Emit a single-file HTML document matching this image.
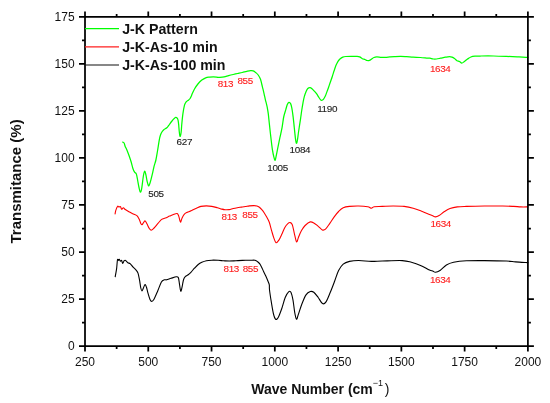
<!DOCTYPE html>
<html><head><meta charset="utf-8"><title>FTIR</title>
<style>
html,body{margin:0;padding:0;background:#fff;width:550px;height:403px;overflow:hidden}
svg{display:block}
text{font-family:"Liberation Sans",Arial,sans-serif}
.tl{font-size:12px;fill:#111}
.pk{font-size:9.9px}
.lg{font-size:14.2px;font-weight:bold;fill:#111}
.ax{font-size:14px;font-weight:bold;fill:#111}
</style></head><body>
<svg width="550" height="403" viewBox="0 0 550 403">
<rect width="550" height="403" fill="#fff"/>
<g fill="none" stroke-linejoin="round" stroke-linecap="round">
<path d="M115.20 276.80 C115.33 276.07 115.75 273.88 116.00 272.40 C116.25 270.92 116.45 270.02 116.70 267.90 C116.95 265.78 117.20 260.95 117.50 259.70 C117.80 258.45 118.22 260.48 118.50 260.40 C118.78 260.32 118.88 259.07 119.20 259.20 C119.52 259.33 120.00 261.00 120.40 261.20 C120.80 261.40 121.22 260.03 121.60 260.40 C121.98 260.77 122.27 263.35 122.70 263.40 C123.13 263.45 123.72 261.20 124.20 260.70 C124.68 260.20 124.98 260.07 125.60 260.40 C126.22 260.73 127.15 262.15 127.90 262.70 C128.65 263.25 129.23 262.97 130.10 263.70 C130.97 264.43 132.10 266.03 133.10 267.10 C134.10 268.17 135.28 269.10 136.10 270.10 C136.92 271.10 137.43 271.48 138.00 273.10 C138.57 274.72 139.03 277.32 139.50 279.80 C139.97 282.28 140.38 286.13 140.80 288.00 C141.22 289.87 141.62 290.88 142.00 291.00 C142.38 291.12 142.60 289.77 143.10 288.70 C143.60 287.63 144.43 284.83 145.00 284.60 C145.57 284.37 146.00 285.87 146.50 287.30 C147.00 288.73 147.43 291.22 148.00 293.20 C148.57 295.18 149.28 297.83 149.90 299.20 C150.52 300.57 151.02 301.40 151.70 301.40 C152.38 301.40 153.00 300.93 154.00 299.20 C155.00 297.47 156.47 293.87 157.70 291.00 C158.93 288.13 160.28 283.87 161.40 282.00 C162.52 280.13 163.53 280.17 164.40 279.80 C165.27 279.43 165.48 280.05 166.60 279.80 C167.72 279.55 169.48 278.80 171.10 278.30 C172.72 277.80 175.10 276.92 176.30 276.80 C177.50 276.68 177.80 276.60 178.30 277.60 C178.80 278.60 178.97 280.82 179.30 282.80 C179.63 284.78 180.00 288.13 180.30 289.50 C180.60 290.87 180.77 291.62 181.10 291.00 C181.43 290.38 181.88 287.72 182.30 285.80 C182.72 283.88 183.07 281.07 183.60 279.50 C184.13 277.93 184.73 277.20 185.50 276.40 C186.27 275.60 187.30 275.38 188.20 274.70 C189.10 274.02 189.85 273.38 190.90 272.30 C191.95 271.22 193.28 269.50 194.50 268.20 C195.72 266.90 196.98 265.48 198.20 264.50 C199.42 263.52 200.43 262.93 201.80 262.30 C203.17 261.67 204.73 261.05 206.40 260.70 C208.07 260.35 209.83 260.27 211.80 260.20 C213.77 260.13 216.38 260.22 218.20 260.30 C220.02 260.38 221.57 260.60 222.70 260.70 C223.83 260.80 223.90 260.85 225.00 260.90 C226.10 260.95 227.85 261.00 229.30 261.00 C230.75 261.00 232.25 260.97 233.70 260.90 C235.15 260.83 236.55 260.68 238.00 260.60 C239.45 260.52 240.95 260.45 242.40 260.40 C243.85 260.35 245.25 260.33 246.70 260.30 C248.15 260.27 249.72 260.20 251.10 260.20 C252.48 260.20 253.92 260.05 255.00 260.30 C256.08 260.55 256.80 261.10 257.60 261.70 C258.40 262.30 259.15 263.03 259.80 263.90 C260.45 264.77 260.85 265.60 261.50 266.90 C262.15 268.20 262.98 270.17 263.70 271.70 C264.42 273.23 265.08 274.50 265.80 276.10 C266.52 277.70 267.42 279.85 268.00 281.30 C268.58 282.75 269.05 283.40 269.30 284.80 C269.55 286.20 269.17 286.85 269.50 289.70 C269.83 292.55 270.63 297.85 271.30 301.90 C271.97 305.95 272.78 311.12 273.50 314.00 C274.22 316.88 274.82 318.62 275.60 319.20 C276.38 319.78 277.18 319.23 278.20 317.50 C279.22 315.77 280.53 312.13 281.70 308.80 C282.87 305.47 284.05 300.33 285.20 297.50 C286.35 294.67 287.65 292.67 288.60 291.80 C289.55 290.93 290.17 290.92 290.90 292.30 C291.63 293.68 292.37 296.77 293.00 300.10 C293.63 303.43 294.12 309.12 294.70 312.30 C295.28 315.48 295.92 318.77 296.50 319.20 C297.08 319.63 297.33 317.35 298.20 314.90 C299.07 312.45 300.40 307.83 301.70 304.50 C303.00 301.17 304.57 297.07 306.00 294.90 C307.43 292.73 309.00 291.93 310.30 291.50 C311.60 291.07 312.48 291.30 313.80 292.30 C315.12 293.30 316.75 295.62 318.20 297.50 C319.65 299.38 321.20 302.87 322.50 303.60 C323.80 304.33 324.70 303.78 326.00 301.90 C327.30 300.02 328.85 295.78 330.30 292.30 C331.75 288.82 333.32 284.63 334.70 281.00 C336.08 277.37 337.18 273.32 338.60 270.50 C340.02 267.68 341.38 265.62 343.20 264.10 C345.02 262.58 346.93 262.00 349.50 261.40 C352.07 260.80 354.95 260.50 358.60 260.50 C362.25 260.50 367.45 261.32 371.40 261.40 C375.35 261.48 377.15 261.13 382.30 261.00 C387.45 260.87 397.45 260.38 402.30 260.60 C407.15 260.82 408.37 261.50 411.40 262.30 C414.43 263.10 417.48 264.10 420.50 265.40 C423.52 266.70 427.47 269.17 429.50 270.10 C431.53 271.03 431.70 270.63 432.70 271.00 C433.70 271.37 434.28 272.38 435.50 272.30 C436.72 272.22 438.18 271.72 440.00 270.50 C441.82 269.28 444.13 266.37 446.40 265.00 C448.67 263.63 450.27 263.00 453.60 262.30 C456.93 261.60 461.25 261.08 466.40 260.80 C471.55 260.52 477.83 260.57 484.50 260.60 C491.17 260.63 501.23 260.78 506.40 261.00 C511.57 261.22 511.92 261.63 515.50 261.90 C519.08 262.17 525.83 262.48 527.90 262.60" stroke="#000" stroke-width="1.1"/>
<path d="M115.10 213.90 C115.22 213.30 115.38 211.57 115.80 210.30 C116.22 209.03 117.07 206.87 117.60 206.30 C118.13 205.73 118.52 206.85 119.00 206.90 C119.48 206.95 120.07 206.20 120.50 206.60 C120.93 207.00 121.12 209.10 121.60 209.30 C122.08 209.50 122.78 207.77 123.40 207.80 C124.02 207.83 124.38 208.85 125.30 209.50 C126.22 210.15 127.57 210.97 128.90 211.70 C130.23 212.43 131.97 213.23 133.30 213.90 C134.63 214.57 135.93 214.85 136.90 215.70 C137.87 216.55 138.45 217.72 139.10 219.00 C139.75 220.28 140.32 222.43 140.80 223.40 C141.28 224.37 141.55 224.93 142.00 224.80 C142.45 224.67 142.97 223.25 143.50 222.60 C144.03 221.95 144.60 220.65 145.20 220.90 C145.80 221.15 146.42 222.83 147.10 224.10 C147.78 225.37 148.62 227.48 149.30 228.50 C149.98 229.52 150.48 230.20 151.20 230.20 C151.92 230.20 152.47 229.63 153.60 228.50 C154.73 227.37 156.67 224.92 158.00 223.40 C159.33 221.88 160.38 220.30 161.60 219.40 C162.82 218.50 163.97 218.55 165.30 218.00 C166.63 217.45 168.15 216.73 169.60 216.10 C171.05 215.47 172.73 214.63 174.00 214.20 C175.27 213.77 176.42 213.18 177.20 213.50 C177.98 213.82 178.22 214.82 178.70 216.10 C179.18 217.38 179.75 220.23 180.10 221.20 C180.45 222.17 180.48 222.38 180.80 221.90 C181.12 221.42 181.43 219.57 182.00 218.30 C182.57 217.03 183.32 215.30 184.20 214.30 C185.08 213.30 186.42 212.78 187.30 212.30 C188.18 211.82 188.75 211.70 189.50 211.40 C190.25 211.10 190.65 211.03 191.80 210.50 C192.95 209.97 194.88 208.88 196.40 208.20 C197.92 207.52 199.23 206.78 200.90 206.40 C202.57 206.02 204.58 205.90 206.40 205.90 C208.22 205.90 209.98 206.10 211.80 206.40 C213.62 206.70 215.63 207.25 217.30 207.70 C218.97 208.15 220.52 208.77 221.80 209.10 C223.08 209.43 223.78 209.62 225.00 209.70 C226.22 209.78 227.73 209.80 229.10 209.60 C230.47 209.40 231.83 208.82 233.20 208.50 C234.57 208.18 235.93 207.93 237.30 207.70 C238.67 207.47 240.03 207.30 241.40 207.10 C242.77 206.90 244.15 206.70 245.50 206.50 C246.85 206.30 248.15 206.05 249.50 205.90 C250.85 205.75 252.37 205.58 253.60 205.60 C254.83 205.62 255.93 205.72 256.90 206.00 C257.87 206.28 258.58 206.68 259.40 207.30 C260.22 207.92 260.98 208.75 261.80 209.70 C262.62 210.65 263.48 211.77 264.30 213.00 C265.12 214.23 265.88 215.60 266.70 217.10 C267.52 218.60 268.38 219.75 269.20 222.00 C270.02 224.25 270.83 227.95 271.60 230.60 C272.37 233.25 273.07 235.88 273.80 237.90 C274.53 239.92 275.15 242.33 276.00 242.70 C276.85 243.07 277.93 241.50 278.90 240.10 C279.87 238.70 280.83 236.37 281.80 234.30 C282.77 232.23 283.73 229.45 284.70 227.70 C285.67 225.95 286.67 224.65 287.60 223.80 C288.53 222.95 289.52 222.43 290.30 222.60 C291.08 222.77 291.65 223.10 292.30 224.80 C292.95 226.50 293.57 230.13 294.20 232.80 C294.83 235.47 295.62 239.35 296.10 240.80 C296.58 242.25 296.70 242.10 297.10 241.50 C297.50 240.90 297.77 239.02 298.50 237.20 C299.23 235.38 300.40 232.55 301.50 230.60 C302.60 228.65 303.65 226.95 305.10 225.50 C306.55 224.05 308.63 222.25 310.20 221.90 C311.77 221.55 313.17 222.67 314.50 223.40 C315.83 224.13 316.90 225.22 318.20 226.30 C319.50 227.38 321.08 229.42 322.30 229.90 C323.52 230.38 324.25 230.28 325.50 229.20 C326.75 228.12 328.35 225.47 329.80 223.40 C331.25 221.33 332.73 218.78 334.20 216.80 C335.67 214.82 337.10 213.00 338.60 211.50 C340.10 210.00 341.38 208.65 343.20 207.80 C345.02 206.95 346.93 206.70 349.50 206.40 C352.07 206.10 355.57 205.95 358.60 206.00 C361.63 206.05 365.57 206.33 367.70 206.70 C369.83 207.07 370.33 208.20 371.40 208.20 C372.47 208.20 372.28 207.00 374.10 206.70 C375.92 206.40 379.12 206.52 382.30 206.40 C385.48 206.28 389.57 206.00 393.20 206.00 C396.83 206.00 400.77 206.03 404.10 206.40 C407.43 206.77 410.17 207.35 413.20 208.20 C416.23 209.05 419.58 210.45 422.30 211.50 C425.02 212.55 427.77 213.78 429.50 214.50 C431.23 215.22 431.70 215.40 432.70 215.80 C433.70 216.20 434.43 216.95 435.50 216.90 C436.57 216.85 437.60 216.40 439.10 215.50 C440.60 214.60 442.68 212.67 444.50 211.50 C446.32 210.33 447.87 209.27 450.00 208.50 C452.13 207.73 454.57 207.25 457.30 206.90 C460.03 206.55 461.87 206.55 466.40 206.40 C470.93 206.25 478.45 206.07 484.50 206.00 C490.55 205.93 497.85 205.93 502.70 206.00 C507.55 206.07 510.57 206.25 513.60 206.40 C516.63 206.55 518.52 206.82 520.90 206.90 C523.28 206.98 526.73 206.90 527.90 206.90" stroke="#ff0000" stroke-width="1.1"/>
<path d="M122.70 142.10 C122.95 142.28 123.80 142.52 124.20 143.20 C124.60 143.88 124.65 145.08 125.10 146.20 C125.55 147.32 126.23 148.30 126.90 149.90 C127.57 151.50 128.40 153.82 129.10 155.80 C129.80 157.78 130.47 159.68 131.10 161.80 C131.73 163.92 132.32 166.77 132.90 168.50 C133.48 170.23 134.03 171.30 134.60 172.20 C135.17 173.10 135.80 172.60 136.30 173.90 C136.80 175.20 137.17 177.82 137.60 180.00 C138.03 182.18 138.43 184.97 138.90 187.00 C139.37 189.03 139.92 192.07 140.40 192.20 C140.88 192.33 141.32 190.42 141.80 187.80 C142.28 185.18 142.83 179.25 143.30 176.50 C143.77 173.75 144.17 171.58 144.60 171.30 C145.03 171.02 145.47 173.07 145.90 174.80 C146.33 176.53 146.77 179.88 147.20 181.70 C147.63 183.52 148.10 185.27 148.50 185.70 C148.90 186.13 149.17 185.40 149.60 184.30 C150.03 183.20 150.57 181.12 151.10 179.10 C151.63 177.08 152.30 174.37 152.80 172.20 C153.30 170.03 153.58 168.13 154.10 166.10 C154.62 164.07 155.33 162.52 155.90 160.00 C156.47 157.48 156.93 154.37 157.50 151.00 C158.07 147.63 158.82 142.42 159.30 139.80 C159.78 137.18 159.97 136.60 160.40 135.30 C160.83 134.00 161.33 132.93 161.90 132.00 C162.47 131.07 163.18 130.27 163.80 129.70 C164.42 129.13 164.98 129.03 165.60 128.60 C166.22 128.17 166.87 127.78 167.50 127.10 C168.13 126.42 168.72 125.43 169.40 124.50 C170.08 123.57 170.87 122.43 171.60 121.50 C172.33 120.57 173.12 119.58 173.80 118.90 C174.48 118.22 175.13 117.52 175.70 117.40 C176.27 117.28 176.80 117.70 177.20 118.20 C177.60 118.70 177.85 119.28 178.10 120.40 C178.35 121.52 178.52 123.13 178.70 124.90 C178.88 126.67 179.02 129.23 179.20 131.00 C179.38 132.77 179.60 134.65 179.80 135.50 C180.00 136.35 180.17 136.72 180.40 136.10 C180.63 135.48 180.97 133.82 181.20 131.80 C181.43 129.78 181.52 126.98 181.80 124.00 C182.08 121.02 182.45 117.03 182.90 113.90 C183.35 110.77 183.97 107.20 184.50 105.20 C185.03 103.20 185.45 102.73 186.10 101.90 C186.75 101.07 187.73 100.77 188.40 100.20 C189.07 99.63 189.63 99.15 190.10 98.50 C190.57 97.85 190.83 97.13 191.20 96.30 C191.57 95.47 191.75 94.72 192.30 93.50 C192.85 92.28 193.57 90.58 194.50 89.00 C195.43 87.42 196.68 85.48 197.90 84.00 C199.12 82.52 200.50 81.13 201.80 80.10 C203.10 79.07 204.40 78.30 205.70 77.80 C207.00 77.30 208.30 77.27 209.60 77.10 C210.90 76.93 212.10 76.77 213.50 76.80 C214.90 76.83 217.00 77.22 218.00 77.30 C219.00 77.38 218.48 77.38 219.50 77.30 C220.52 77.22 222.58 77.08 224.10 76.80 C225.62 76.52 227.08 75.98 228.60 75.60 C230.12 75.22 231.68 74.85 233.20 74.50 C234.72 74.15 236.18 73.83 237.70 73.50 C239.22 73.17 240.78 72.85 242.30 72.50 C243.82 72.15 245.43 71.70 246.80 71.40 C248.17 71.10 249.43 70.78 250.50 70.70 C251.57 70.62 252.30 70.57 253.20 70.90 C254.10 71.23 255.07 72.02 255.90 72.70 C256.73 73.38 257.43 73.90 258.20 75.00 C258.97 76.10 259.80 77.32 260.50 79.30 C261.20 81.28 261.92 84.98 262.40 86.90 C262.88 88.82 263.07 89.40 263.40 90.80 C263.73 92.20 264.07 93.80 264.40 95.30 C264.73 96.80 265.07 98.40 265.40 99.80 C265.73 101.20 266.08 102.38 266.40 103.70 C266.72 105.02 266.98 106.00 267.30 107.70 C267.62 109.40 267.95 111.13 268.30 113.90 C268.65 116.67 268.97 120.33 269.40 124.30 C269.83 128.27 270.40 133.48 270.90 137.70 C271.40 141.92 271.90 146.37 272.40 149.60 C272.90 152.83 273.45 155.30 273.90 157.10 C274.35 158.90 274.73 160.53 275.10 160.40 C275.47 160.27 275.68 158.22 276.10 156.30 C276.52 154.38 276.97 152.00 277.60 148.90 C278.23 145.80 279.15 141.30 279.90 137.70 C280.65 134.10 281.47 130.75 282.10 127.30 C282.73 123.85 283.08 119.95 283.70 117.00 C284.32 114.05 285.20 111.67 285.80 109.60 C286.40 107.53 286.78 105.82 287.30 104.60 C287.82 103.38 288.35 102.47 288.90 102.30 C289.45 102.13 290.12 102.67 290.60 103.60 C291.08 104.53 291.38 105.73 291.80 107.90 C292.22 110.07 292.68 113.28 293.10 116.60 C293.52 119.92 293.90 124.08 294.30 127.80 C294.70 131.52 295.15 136.32 295.50 138.90 C295.85 141.48 296.08 143.08 296.40 143.30 C296.72 143.52 297.03 142.17 297.40 140.20 C297.77 138.23 298.08 135.02 298.60 131.50 C299.12 127.98 299.97 122.68 300.50 119.10 C301.03 115.52 301.38 112.72 301.80 110.00 C302.22 107.28 302.58 105.02 303.00 102.80 C303.42 100.58 303.78 98.58 304.30 96.70 C304.82 94.82 305.52 92.87 306.10 91.50 C306.68 90.13 307.15 89.15 307.80 88.50 C308.45 87.85 309.27 87.53 310.00 87.60 C310.73 87.67 311.48 88.32 312.20 88.90 C312.92 89.48 313.58 90.30 314.30 91.10 C315.02 91.90 315.77 92.70 316.50 93.70 C317.23 94.70 318.05 96.12 318.70 97.10 C319.35 98.08 319.90 99.07 320.40 99.60 C320.90 100.13 321.20 100.35 321.70 100.30 C322.20 100.25 322.82 99.97 323.40 99.30 C323.98 98.63 324.62 97.53 325.20 96.30 C325.78 95.07 326.33 93.42 326.90 91.90 C327.47 90.38 328.05 88.77 328.60 87.20 C329.15 85.63 329.58 84.28 330.20 82.50 C330.82 80.72 331.65 78.45 332.30 76.50 C332.95 74.55 333.50 72.62 334.10 70.80 C334.70 68.98 335.25 67.18 335.90 65.60 C336.55 64.02 337.28 62.45 338.00 61.30 C338.72 60.15 339.40 59.40 340.20 58.70 C341.00 58.00 341.87 57.47 342.80 57.10 C343.73 56.73 344.43 56.63 345.80 56.50 C347.17 56.37 349.12 56.33 351.00 56.30 C352.88 56.27 355.65 56.20 357.10 56.30 C358.55 56.40 358.83 56.50 359.70 56.90 C360.57 57.30 361.42 58.27 362.30 58.70 C363.18 59.13 364.22 59.20 365.00 59.50 C365.78 59.80 366.25 60.35 367.00 60.50 C367.75 60.65 368.72 60.67 369.50 60.40 C370.28 60.13 370.97 59.38 371.70 58.90 C372.43 58.42 373.05 57.83 373.90 57.50 C374.75 57.17 375.58 56.93 376.80 56.90 C378.02 56.87 379.75 57.23 381.20 57.30 C382.65 57.37 384.05 57.37 385.50 57.30 C386.95 57.23 388.43 57.02 389.90 56.90 C391.37 56.78 392.48 56.68 394.30 56.60 C396.12 56.52 398.75 56.38 400.80 56.40 C402.85 56.42 404.53 56.57 406.60 56.70 C408.67 56.83 410.88 57.07 413.20 57.20 C415.52 57.33 418.08 57.33 420.50 57.50 C422.92 57.67 426.12 58.08 427.70 58.20 C429.28 58.32 429.07 58.07 430.00 58.20 C430.93 58.33 432.22 58.87 433.30 59.00 C434.38 59.13 435.28 59.13 436.50 59.00 C437.72 58.87 439.10 58.50 440.60 58.20 C442.10 57.90 444.00 57.47 445.50 57.20 C447.00 56.93 448.50 56.60 449.60 56.60 C450.70 56.60 451.28 56.87 452.10 57.20 C452.92 57.53 453.68 58.02 454.50 58.60 C455.32 59.18 456.17 60.22 457.00 60.70 C457.83 61.18 458.70 61.10 459.50 61.50 C460.30 61.90 460.98 63.10 461.80 63.10 C462.62 63.10 463.43 62.18 464.40 61.50 C465.37 60.82 466.52 59.75 467.60 59.00 C468.68 58.25 469.67 57.47 470.90 57.00 C472.13 56.53 473.33 56.37 475.00 56.20 C476.67 56.03 477.80 56.03 480.90 56.00 C484.00 55.97 489.35 55.93 493.60 56.00 C497.85 56.07 502.45 56.25 506.40 56.40 C510.35 56.55 514.03 56.75 517.30 56.90 C520.57 57.05 524.23 57.23 526.00 57.30 C527.77 57.37 527.58 57.30 527.90 57.30" stroke="#00ff00" stroke-width="1.25"/>
</g>
<path d="M85.00 16.90 H527.90 V346.05 H85.00 Z" fill="none" stroke="#000" stroke-width="1.75" stroke-linejoin="miter"/>
<path d="M85.00 346.05 V351.55 M85.00 16.90 V11.40 M116.64 346.05 V349.05 M116.64 16.90 V13.90 M148.27 346.05 V351.55 M148.27 16.90 V11.40 M179.91 346.05 V349.05 M179.91 16.90 V13.90 M211.54 346.05 V351.55 M211.54 16.90 V11.40 M243.18 346.05 V349.05 M243.18 16.90 V13.90 M274.81 346.05 V351.55 M274.81 16.90 V11.40 M306.45 346.05 V349.05 M306.45 16.90 V13.90 M338.09 346.05 V351.55 M338.09 16.90 V11.40 M369.72 346.05 V349.05 M369.72 16.90 V13.90 M401.36 346.05 V351.55 M401.36 16.90 V11.40 M432.99 346.05 V349.05 M432.99 16.90 V13.90 M464.63 346.05 V351.55 M464.63 16.90 V11.40 M496.26 346.05 V349.05 M496.26 16.90 V13.90 M527.90 346.05 V351.55 M527.90 16.90 V11.40 M85.00 346.05 H79.00 M527.90 346.05 H533.90 M85.00 322.54 H82.00 M527.90 322.54 H530.90 M85.00 299.03 H79.00 M527.90 299.03 H533.90 M85.00 275.52 H82.00 M527.90 275.52 H530.90 M85.00 252.01 H79.00 M527.90 252.01 H533.90 M85.00 228.50 H82.00 M527.90 228.50 H530.90 M85.00 204.99 H79.00 M527.90 204.99 H533.90 M85.00 181.47 H82.00 M527.90 181.47 H530.90 M85.00 157.96 H79.00 M527.90 157.96 H533.90 M85.00 134.45 H82.00 M527.90 134.45 H530.90 M85.00 110.94 H79.00 M527.90 110.94 H533.90 M85.00 87.43 H82.00 M527.90 87.43 H530.90 M85.00 63.92 H79.00 M527.90 63.92 H533.90 M85.00 40.41 H82.00 M527.90 40.41 H530.90 M85.00 16.90 H79.00 M527.90 16.90 H533.90" stroke="#000" stroke-width="1.75" fill="none"/>
<text x="74.6" y="349.95" class="tl" text-anchor="end">0</text>
<text x="74.6" y="302.93" class="tl" text-anchor="end">25</text>
<text x="74.6" y="255.91" class="tl" text-anchor="end">50</text>
<text x="74.6" y="208.89" class="tl" text-anchor="end">75</text>
<text x="74.6" y="161.86" class="tl" text-anchor="end">100</text>
<text x="74.6" y="114.84" class="tl" text-anchor="end">125</text>
<text x="74.6" y="67.82" class="tl" text-anchor="end">150</text>
<text x="74.6" y="20.80" class="tl" text-anchor="end">175</text>
<text x="85.00" y="366.3" class="tl" text-anchor="middle">250</text>
<text x="148.27" y="366.3" class="tl" text-anchor="middle">500</text>
<text x="211.54" y="366.3" class="tl" text-anchor="middle">750</text>
<text x="274.81" y="366.3" class="tl" text-anchor="middle">1000</text>
<text x="338.09" y="366.3" class="tl" text-anchor="middle">1250</text>
<text x="401.36" y="366.3" class="tl" text-anchor="middle">1500</text>
<text x="464.63" y="366.3" class="tl" text-anchor="middle">1750</text>
<text x="527.90" y="366.3" class="tl" text-anchor="middle">2000</text>
<line x1="85" y1="28.7" x2="119" y2="28.7" stroke="#00ff00" stroke-width="1.30"/>
<text x="122.2" y="33.7" class="lg">J-K Pattern</text>
<line x1="85" y1="46.9" x2="119" y2="46.9" stroke="#ff2020" stroke-width="1.10"/>
<text x="122.2" y="51.9" class="lg">J-K-As-10 min</text>
<line x1="85" y1="65.0" x2="119" y2="65.0" stroke="#111" stroke-width="1.10"/>
<text x="122.2" y="70.0" class="lg">J-K-As-100 min</text>
<text transform="translate(148.30 196.60) scale(1.000 1)" class="pk" fill="#222" stroke="#222" stroke-width="0.12" letter-spacing="-0.35">505</text>
<text transform="translate(176.60 145.40) scale(1.000 1)" class="pk" fill="#222" stroke="#222" stroke-width="0.12" letter-spacing="-0.35">627</text>
<text transform="translate(267.30 170.70) scale(1.000 1)" class="pk" fill="#222" stroke="#222" stroke-width="0.12" letter-spacing="-0.35">1005</text>
<text transform="translate(289.60 153.00) scale(1.000 1)" class="pk" fill="#222" stroke="#222" stroke-width="0.12" letter-spacing="-0.35">1084</text>
<text transform="translate(317.20 111.70) scale(1.000 1)" class="pk" fill="#222" stroke="#222" stroke-width="0.12" letter-spacing="-0.35">1190</text>
<text transform="translate(217.70 87.30) scale(1.000 1)" class="pk" fill="#ff2020" stroke="#ff2020" stroke-width="0.12" letter-spacing="-0.35">813</text>
<text transform="translate(237.40 84.40) scale(1.000 1)" class="pk" fill="#ff2020" stroke="#ff2020" stroke-width="0.12" letter-spacing="-0.35">855</text>
<text transform="translate(429.90 71.80) scale(1.000 1)" class="pk" fill="#ff2020" stroke="#ff2020" stroke-width="0.12" letter-spacing="-0.35">1634</text>
<text transform="translate(221.50 219.80) scale(1.000 1)" class="pk" fill="#ff2020" stroke="#ff2020" stroke-width="0.12" letter-spacing="-0.35">813</text>
<text transform="translate(242.30 218.30) scale(1.000 1)" class="pk" fill="#ff2020" stroke="#ff2020" stroke-width="0.12" letter-spacing="-0.35">855</text>
<text transform="translate(430.40 227.30) scale(1.000 1)" class="pk" fill="#ff2020" stroke="#ff2020" stroke-width="0.12" letter-spacing="-0.35">1634</text>
<text transform="translate(223.50 271.60) scale(1.000 1)" class="pk" fill="#ff2020" stroke="#ff2020" stroke-width="0.12" letter-spacing="-0.35">813</text>
<text transform="translate(242.70 271.60) scale(1.000 1)" class="pk" fill="#ff2020" stroke="#ff2020" stroke-width="0.12" letter-spacing="-0.35">855</text>
<text transform="translate(429.90 282.60) scale(1.000 1)" class="pk" fill="#ff2020" stroke="#ff2020" stroke-width="0.12" letter-spacing="-0.35">1634</text>
<text class="ax" transform="translate(21 181.4) rotate(-90)" style="font-size:15px" text-anchor="middle">Transmitance (%)</text>
<text class="ax" x="251.2" y="394.2">Wave Number (cm<tspan font-size="9" font-weight="normal" dy="-8">&#8722;1</tspan><tspan dy="8" dx="1.6" font-weight="normal">)</tspan></text>
</svg>
</body></html>
